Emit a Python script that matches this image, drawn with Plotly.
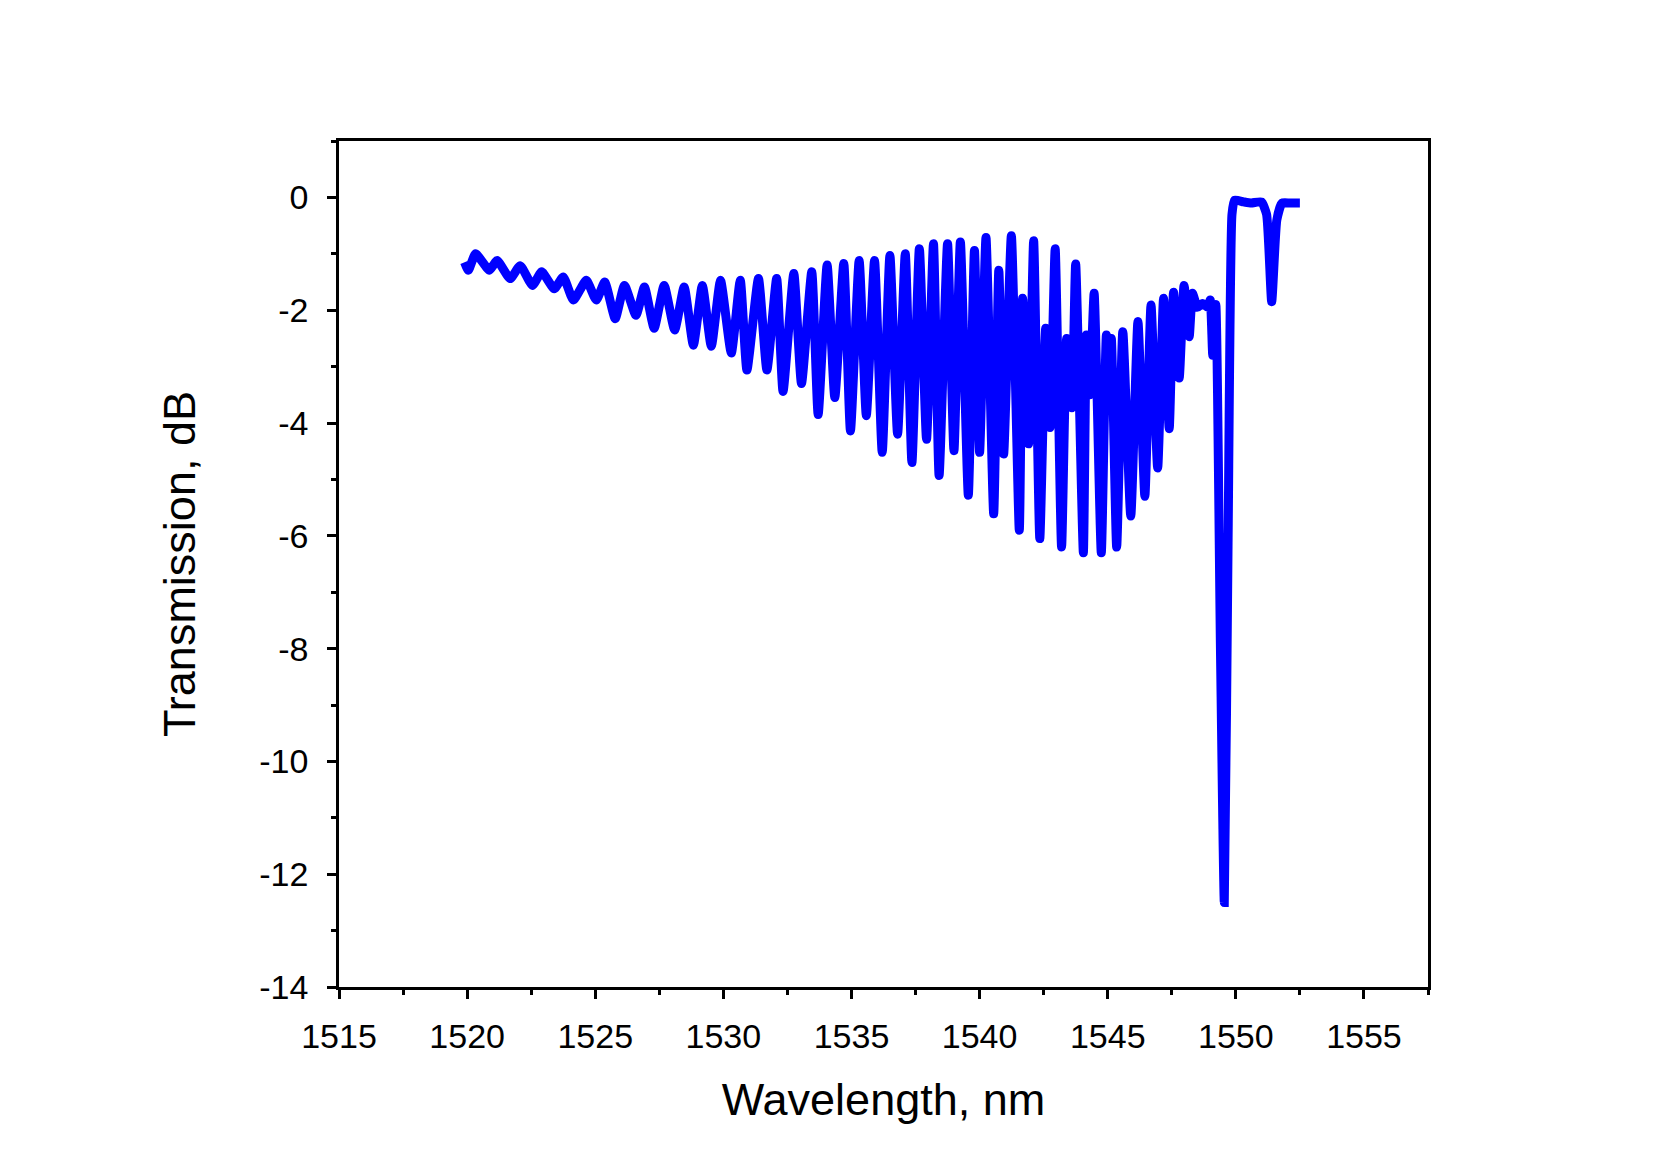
import plotly.graph_objects as go

wavelength_nm = [
    1519.9, 1520.05, 1520.33, 1520.87, 1521.17, 1521.68, 1522.07, 1522.55, 1522.91, 1523.40,
    1523.75, 1524.15, 1524.65, 1525.04, 1525.37, 1525.78, 1526.14, 1526.59, 1526.92, 1527.30,
    1527.69, 1528.10, 1528.47, 1528.83, 1529.18, 1529.53, 1529.89, 1530.31, 1530.66, 1530.92,
    1531.37, 1531.70, 1532.08, 1532.33, 1532.75, 1533.05, 1533.45, 1533.70, 1534.05, 1534.35,
    1534.70, 1534.96, 1535.30, 1535.58, 1535.90, 1536.20, 1536.50, 1536.80, 1537.10, 1537.36,
    1537.65, 1537.93, 1538.20, 1538.42, 1538.75, 1539.00, 1539.25, 1539.56, 1539.80, 1540.00,
    1540.25, 1540.55, 1540.75, 1540.94, 1541.24, 1541.55, 1541.68, 1541.91, 1542.11, 1542.35,
    1542.58, 1542.75, 1542.95, 1543.20, 1543.40, 1543.60, 1543.75, 1544.05, 1544.17, 1544.30,
    1544.47, 1544.75, 1544.95, 1545.05, 1545.14, 1545.35, 1545.59, 1545.90, 1546.18, 1546.45,
    1546.69, 1546.95, 1547.18, 1547.40, 1547.57, 1547.79, 1547.98, 1548.18, 1548.31, 1548.50,
    1548.70, 1548.90, 1549.00, 1549.10, 1549.22, 1549.40, 1549.55, 1549.70, 1549.85, 1549.95,
    1550.30, 1550.60, 1551.00, 1551.20, 1551.40, 1551.60, 1551.80, 1552.10, 1552.50,
]
transmission_db = [
    -1.15, -1.29, -1.00, -1.29, -1.12, -1.44, -1.21, -1.56, -1.32, -1.62,
    -1.41, -1.82, -1.47, -1.82, -1.50, -2.15, -1.56, -2.09, -1.59, -2.32,
    -1.56, -2.35, -1.59, -2.62, -1.56, -2.64, -1.47, -2.76, -1.47, -3.06,
    -1.44, -3.06, -1.44, -3.44, -1.35, -3.30, -1.32, -3.85, -1.20, -3.55,
    -1.17, -4.14, -1.12, -3.87, -1.12, -4.52, -1.03, -4.20, -1.00, -4.70,
    -0.91, -4.29, -0.82, -4.93, -0.82, -4.49, -0.79, -5.28, -0.94, -4.52,
    -0.71, -5.61, -1.29, -4.55, -0.68, -5.90, -1.79, -4.37, -0.77, -6.05,
    -2.32, -4.08, -0.91, -6.20, -2.50, -3.73, -1.18, -6.30, -2.44, -3.50,
    -1.70, -6.30, -2.44, -3.00, -2.50, -6.20, -2.38, -5.65, -2.20, -5.30,
    -1.91, -4.80, -1.79, -4.10, -1.68, -3.20, -1.56, -2.47, -1.70, -1.95,
    -1.88, -1.95, -1.82, -2.80, -1.90, -8.00, -12.50, -6.00, -0.30, -0.05,
    -0.08, -0.10, -0.08, -0.30, -1.85, -0.40, -0.10, -0.10, -0.10,
]
y_tick_values = [0, -2, -4, -6, -8, -10, -12, -14]
y_tick_labels = ["0", "-2", "-4", "-6", "-8", "-10", "-12", "-14"]

fig = go.Figure(go.Scatter(
    x=wavelength_nm, y=transmission_db, mode="lines",
    line=dict(color="#0000ff", width=9, shape="spline", smoothing=0.5),
))

axis_common = dict(
    showline=True, linecolor="black", linewidth=2.5, mirror=True,
    ticks="outside", ticklen=9, tickwidth=2.5, tickcolor="black",
    showgrid=False, zeroline=False,
    tickfont=dict(family="Liberation Sans, Arial", size=34, color="black"),
    title_font=dict(family="Liberation Sans, Arial", size=45, color="black"),
)
fig.update_xaxes(range=[1515, 1557.5], dtick=5, tick0=1515, ticklabelstandoff=8,
                 minor=dict(dtick=2.5, ticks="outside", ticklen=5, tickwidth=2.5, tickcolor="black"),
                 title_text="Wavelength, nm", title_standoff=30, **axis_common)
fig.update_yaxes(range=[-14, 1], tickvals=y_tick_values, ticktext=y_tick_labels,
                 ticklabelstandoff=12,
                 minor=dict(dtick=1, ticks="outside", ticklen=5, tickwidth=2.5, tickcolor="black"),
                 title_text="Transmission, dB", title_standoff=50, **axis_common)
fig.update_layout(
    width=1680, height=1176, plot_bgcolor="white", paper_bgcolor="white",
    margin=dict(l=331, r=260, t=133, b=197), showlegend=False,
)
fig.write_html("out.html")
